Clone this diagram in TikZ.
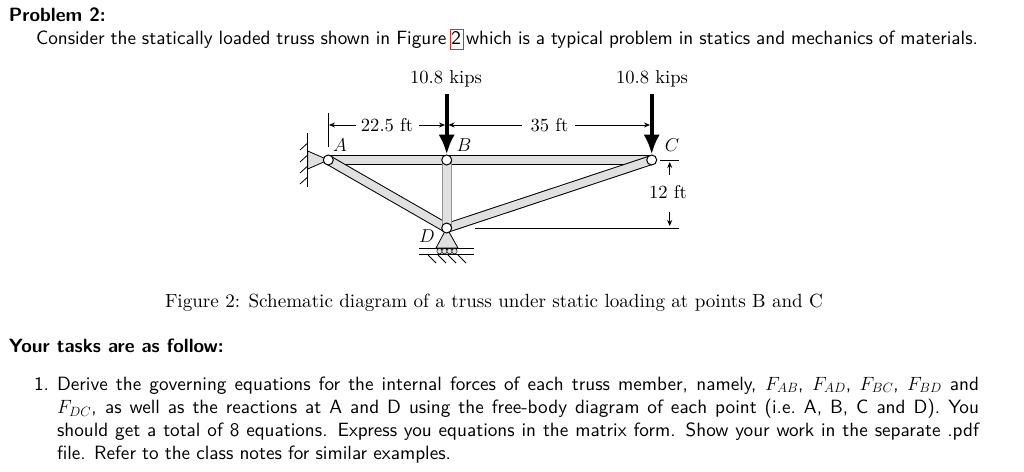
\RequirePackage{fix-cm}
\documentclass[tikz,border=0pt]{standalone}
\usepackage{fontspec}
\setsansfont{lmsans10-regular.otf}[BoldFont=lmsans10-bold.otf]
\setmainfont{lmroman10-regular.otf}
\usetikzlibrary{arrows.meta}
\definecolor{memb}{HTML}{E0E0E0}
\definecolor{refred}{HTML}{E8281C}
\newcommand{\bsz}{\fontsize{19.2}{24}\selectfont\sffamily}
\newcommand{\bbsz}{\fontsize{19.2}{24}\selectfont\sffamily\bfseries}
\newcommand{\fsz}{\fontsize{18.6}{21}\selectfont\rmfamily}
\newcommand{\csz}{\fontsize{19.1}{21}\selectfont\rmfamily}
\tikzset{
 x=1pt,y=-1pt,
 bodytxt/.style={anchor=base west,inner sep=0pt,outer sep=0pt,font=\bsz},
 figtxt/.style={anchor=base,inner sep=0pt,outer sep=0pt,font=\fsz},
 member/.style={line width=9.8pt,draw=black},
 memberfill/.style={line width=7.8pt,draw=memb},
 pin/.style={circle,draw=black,fill=white,line width=1pt,minimum size=10pt,inner sep=0pt},
 force/.style={line width=4.4pt,-{Latex[length=20pt,width=16.5pt]}},
 dim/.style={line width=0.8pt},
 dimarrow/.style={line width=0.8pt,-{Stealth[length=6pt,width=5pt]}},
 hatch/.style={line width=0.8pt},
}
\begin{document}
\begin{tikzpicture}
\useasboundingbox (0,0) rectangle (1024,471);
\fill[white] (0,0) rectangle (1024,471);
% body text
\node[bodytxt,font=\bbsz] (title) at (9,21) {Problem 2:};
\node[bodytxt] (p1) at (36,44) {\hbox to 942pt{Consider the statically loaded truss shown in Figure\kern5pt 2\kern5pt which is a typical problem in statics and mechanics of materials.}};
\node[bodytxt,font=\bbsz] (tasks) at (9,352) {Your tasks are as follow:};
\node[bodytxt] (num) at (34,390) {1.};
\node[bodytxt] (l1) at (57,390) {\hbox to 922pt{Derive the governing equations for the internal forces of each truss member, namely, $F_{AB}$, $F_{AD}$, $F_{BC}$, $F_{BD}$ and}};
\node[bodytxt] (l2) at (57,413.3) {\hbox to 922pt{$F_{DC}$, as well as the reactions at A and D using the free-body diagram of each point (i.e.\ A, B, C and D). You}};
\node[bodytxt] (l3) at (57,436.5) {\hbox to 922pt{should get a total of 8 equations. Express you equations in the matrix form. Show your work in the separate .pdf}};
\node[bodytxt] (l4) at (57,459.3) {\hbox to 394pt{file. Refer to the class notes for similar examples.}};
\node[figtxt,font=\csz] (cap) at (494,307) {Figure 2: Schematic diagram of a truss under static loading at points B and C};
% truss
\coordinate (A) at (328.3,160);
\coordinate (B) at (446.7,160);
\coordinate (C) at (651.7,160);
\coordinate (D) at (446.7,228);
% supports
\draw[line width=0.8pt,fill=memb] (A) -- (307.7,151) -- (307.7,169) -- cycle;
\draw[line width=0.8pt,fill=memb] (D) -- (436,248) -- (458,248) -- cycle;
\foreach \yy in {143,155,166,177}
  \draw[hatch] (307.7,\yy) -- (300,\yy+7);
\draw[line width=1.4pt] (307.7,133) -- (307.7,187);
\draw[line width=0.8pt] (419,248) -- (474,248);
\draw[line width=0.8pt] (419,254.5) -- (474,254.5);
\foreach \xx in {439.5,444.5,449.5,454.5}
  \draw[line width=0.5pt,fill=memb] (\xx,251.2) circle (2.7);
\foreach \xx in {428,438,448,458}
  \draw[hatch] (\xx,255) -- (\xx+8,263);
% members
\draw[member] (A) -- (C);
\draw[memberfill] (A) -- (C);
\draw[member] (A) -- (D);
\draw[memberfill] (A) -- (D);
\draw[member] (C) -- (D);
\draw[memberfill] (C) -- (D);
\draw[line width=9.8pt,draw=gray!85] (B) -- (D);
\draw[memberfill] (B) -- (D);
% pins
\node[pin] (pA) at (A) {};
\node[pin] (pB) at (B) {};
\node[pin] (pC) at (C) {};
\node[pin] (pD) at (D) {};
% forces
\coordinate (fB) at (446.7,94);
\coordinate (fC) at (651.7,94);
\draw[force] (fB) -- (pB);
\draw[force] (fC) -- (pC);
\node[figtxt] (kB) at (446,83) {10.8 kips};
\node[figtxt] (kC) at (652,83) {10.8 kips};
% labels
\node[figtxt] (lA) at (340,151) {$A$};
\node[figtxt] (lB) at (464,151) {$B$};
\node[figtxt] (lC) at (672,151) {$C$};
\node[figtxt] (lD) at (427,242) {$D$};
% dimensions
\coordinate (e1a) at (328.7,113); \coordinate (e1b) at (328.7,147);
\draw[dim] (e1a) -- (e1b);
\node[figtxt] (d1) at (387,131) {22.5 ft};
\node[figtxt] (d2) at (549.5,131) {35 ft};
\node[figtxt] (d3) at (668,198.5) {12 ft};
\coordinate (p1a) at (329,125); \coordinate (p1b) at (445,125);
\coordinate (p2a) at (448.5,125); \coordinate (p2b) at (650,125);
\coordinate (q1) at (356,125); \coordinate (q2) at (419,125);
\coordinate (q3) at (522,125); \coordinate (q4) at (575,125);
\draw[dimarrow] (q1) -- (p1a);
\draw[dimarrow] (q2) -- (p1b);
\draw[dimarrow] (q3) -- (p2a);
\draw[dimarrow] (q4) -- (p2b);
\coordinate (t1) at (660,160); \coordinate (t2) at (679,160);
\coordinate (b1) at (475,228); \coordinate (b2) at (679,228);
\draw[dim] (t1) -- (t2);
\draw[dim] (b1) -- (b2);
\coordinate (a1s) at (669.7,175); \coordinate (a1e) at (669.7,162);
\coordinate (a2s) at (669.7,212); \coordinate (a2e) at (669.7,226);
\draw[dimarrow] (a1s) -- (a1e);
\draw[dimarrow] (a2s) -- (a2e);
% red ref box
\node[draw=refred,line width=0.8pt,minimum width=12.5pt,minimum height=19.5pt,inner sep=0pt] (ref) at (456.7,39.5) {};
\end{tikzpicture}
\end{document}
